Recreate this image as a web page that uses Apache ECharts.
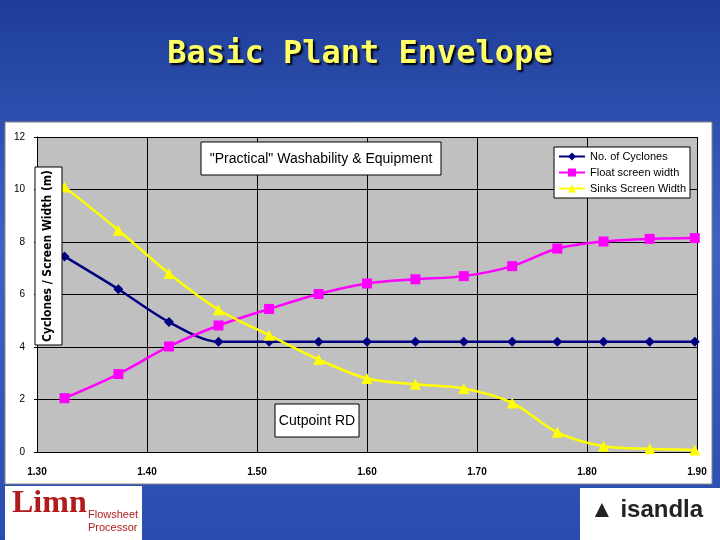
<!DOCTYPE html>
<html>
<head>
<meta charset="utf-8">
<script src="https://cdn.jsdelivr.net/npm/echarts@6/dist/echarts.min.js"></script>
<style>
html,body{margin:0;padding:0;}
body{width:720px;height:540px;background:linear-gradient(180deg,#1e3d9a 0%,#3f62c2 45%,#2a4cb0 100%);}
#chart{width:720px;height:540px;}
</style>
</head>
<body>
<div id="chart"></div>
<script>
// 切点密度 (Cutpoint RD)
var cutpoints = [1.325, 1.374, 1.420, 1.465, 1.511, 1.556, 1.600, 1.644, 1.688, 1.732, 1.773, 1.815, 1.857, 1.898];
var cyclones = [7.45, 6.2, 4.95, 4.2, 4.2, 4.2, 4.2, 4.2, 4.2, 4.2, 4.2, 4.2, 4.2, 4.2];
var floatWidth = [2.05, 2.97, 4.02, 4.82, 5.45, 6.02, 6.42, 6.58, 6.7, 7.08, 7.75, 8.02, 8.12, 8.15];
var sinksWidth = [10.1, 8.45, 6.8, 5.42, 4.45, 3.52, 2.8, 2.58, 2.42, 1.87, 0.75, 0.22, 0.12, 0.08];
var seriesNames = ['No. of Cyclones', 'Float screen width', 'Sinks Screen Width'];

function pairs(ys) {
    var out = [];
    for (var i = 0; i < ys.length; i++) out.push([cutpoints[i], ys[i]]);
    return out;
}

// 白框+文字
function box(x, y, w, h) {
    return { type: 'rect', z: 100, shape: { x: x, y: y, width: w, height: h }, style: { fill: '#fff', stroke: '#000', lineWidth: 1 } };
}
function label(x, y, text, font, rot) {
    return { type: 'text', z: 101, x: x, y: y, rotation: rot || 0,
        style: { text: text, align: 'center', verticalAlign: 'middle', font: font, fill: '#000' } };
}

var chart = echarts.init(document.getElementById('chart'));
chart.setOption({
    animation: false,
    textStyle: { fontFamily: 'Liberation Sans' },
    title: {
        text: 'Basic Plant Envelope', left: 'center', top: 34,
        textStyle: { color: '#ffff66', fontSize: 32, fontWeight: 'bold', fontFamily: 'DejaVu Sans Mono',
            textShadowColor: '#000', textShadowBlur: 2, textShadowOffsetX: 2, textShadowOffsetY: 2 }
    },
    graphic: [
        { type: 'rect', z: -10, shape: { x: 5, y: 122, width: 707, height: 362 }, style: { fill: '#fff', stroke: '#888' } },
        { type: 'rect', z: -10, shape: { x: 5, y: 486, width: 137, height: 54 }, style: { fill: '#fff' } },
        { type: 'text', z: 100, x: 12, y: 488, style: { text: 'Limn', fill: '#b01c1c', font: 'bold 32px "Liberation Serif"' } },
        { type: 'text', z: 101, x: 88, y: 508, style: { text: 'Flowsheet\nProcessor', fill: '#b01c1c', font: '11px "Liberation Sans"', lineHeight: 13 } },
        { type: 'rect', z: -10, shape: { x: 580, y: 488, width: 140, height: 52 }, style: { fill: '#fff' } },
        { type: 'text', z: 100, x: 590, y: 498, style: { text: '▲ isandla', fill: '#222', font: 'bold 24px "Liberation Sans"' } },
        box(201, 142, 240, 33),
        label(321, 159, '"Practical" Washability & Equipment', '14px "Liberation Sans"'),
        box(275, 404, 84, 33),
        label(317, 421, 'Cutpoint RD', '14px "Liberation Sans"'),
        box(35, 167, 27, 178),
        label(48, 256, 'Cyclones / Screen Width (m)', 'bold 12px "DejaVu Sans Condensed"', Math.PI / 2)
    ],
    legend: {
        orient: 'vertical', right: 30, top: 147, itemGap: 5, itemWidth: 26, itemHeight: 10,
        backgroundColor: '#fff', borderColor: '#000', borderWidth: 1, padding: [4, 4, 4, 4],
        textStyle: { fontSize: 11, color: '#000', fontFamily: 'Liberation Sans' },
        data: seriesNames
    },
    grid: { left: 37, right: 23, top: 137, bottom: 88 },
    xAxis: {
        type: 'value', min: 1.3, max: 1.9, interval: 0.1,
        axisLine: { lineStyle: { color: '#000' } },
        axisTick: { show: false },
        axisLabel: { color: '#000', fontSize: 10, fontWeight: 'bold', margin: 15, formatter: function (v) { return v.toFixed(2); } },
        splitLine: { show: true, lineStyle: { color: '#000', width: 1 } }
    },
    yAxis: {
        type: 'value', min: 0, max: 12, interval: 2,
        axisLine: { show: true, lineStyle: { color: '#000' } },
        axisTick: { show: true, length: 3 },
        axisLabel: { color: '#000', fontSize: 10, margin: 12 },
        splitLine: { show: true, lineStyle: { color: '#000', width: 1 } },
        splitArea: { show: true, areaStyle: { color: ['#c0c0c0', '#c0c0c0'] } }
    },
    series: [
        { name: seriesNames[0], type: 'line', smooth: 0.3, data: pairs(cyclones), symbol: 'diamond', symbolSize: 10,
          lineStyle: { color: '#000080', width: 2.5 }, itemStyle: { color: '#000080' } },
        { name: seriesNames[1], type: 'line', smooth: 0.3, data: pairs(floatWidth), symbol: 'rect', symbolSize: 10,
          lineStyle: { color: '#ff00ff', width: 2.5 }, itemStyle: { color: '#ff00ff' } },
        { name: seriesNames[2], type: 'line', smooth: 0.3, data: pairs(sinksWidth), symbol: 'triangle', symbolSize: 11,
          lineStyle: { color: '#ffff00', width: 2.5 }, itemStyle: { color: '#ffff00' } }
    ]
});
</script>
</body>
</html>
